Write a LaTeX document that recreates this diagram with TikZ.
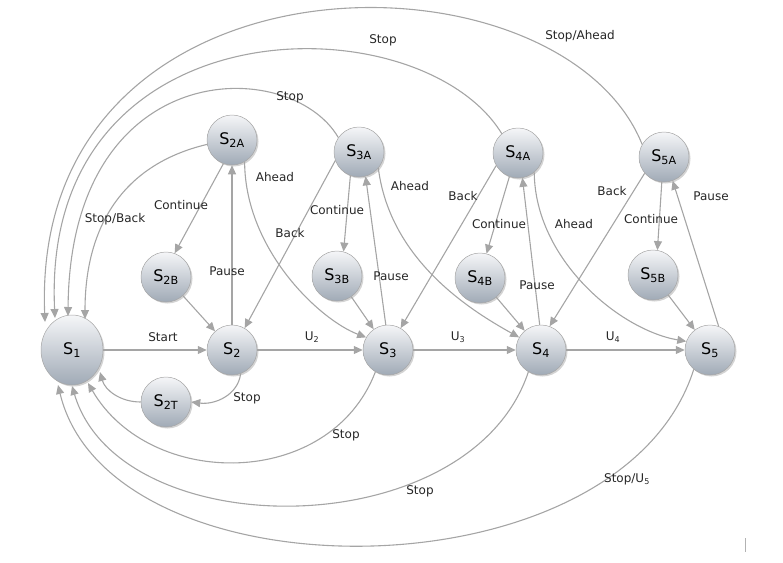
\documentclass[tikz,border=0pt]{standalone}
\usepackage{fontspec}
\setmainfont{DejaVu Sans}
\usetikzlibrary{shadows,arrows.meta,shapes.geometric}
\definecolor{ln}{RGB}{165,165,165}
\definecolor{bt}{RGB}{245,246,248}
\definecolor{bb}{RGB}{160,170,182}
\newcommand{\sbx}[1]{\textsubscript{#1}}
\tikzset{
  st/.style={circle,draw=gray!70,line width=0.5pt,minimum size=50pt,inner sep=0pt,
    top color=bt,bottom color=bb,drop shadow={opacity=0.35,shadow xshift=1.5pt,shadow yshift=-1.5pt},font=\fontsize{16}{16}\selectfont},
  big/.style={st,ellipse,minimum width=62pt,minimum height=70pt},
  tr/.style={draw=ln,line width=1.1pt,-{Triangle[length=9pt,width=8pt]}},
  lb/.style={font=\fontsize{12}{12}\selectfont,text=black!85}
}
\begin{document}
\begin{tikzpicture}[x=1pt,y=-1pt]
\useasboundingbox (0,0) rectangle (783,562);
\node[big] (s1) at (72,350) {S\sbx{1}};
\node[st] (s2) at (232,350) {S\sbx{2}};
\node[st] (s3) at (388,350) {S\sbx{3}};
\node[st] (s4) at (541,350) {S\sbx{4}};
\node[st] (s5) at (710,350) {S\sbx{5}};
\node[st] (s2a) at (232,140) {S\sbx{2A}};
\node[st] (s3a) at (359,152) {S\sbx{3A}};
\node[st] (s4a) at (518,153) {S\sbx{4A}};
\node[st] (s5a) at (664,157) {S\sbx{5A}};
\node[st] (s2b) at (166,277) {S\sbx{2B}};
\node[st] (s3b) at (337,276) {S\sbx{3B}};
\node[st] (s4b) at (480,278) {S\sbx{4B}};
\node[st] (s5b) at (653,275) {S\sbx{5B}};
\node[st] (s2t) at (166,402) {S\sbx{2T}};
% main line
\draw[tr] (s1) -- (s2);
\draw[tr] (s2) -- (s3);
\draw[tr] (s3) -- (s4);
\draw[tr] (s4) -- (s5);
% pause
\draw[tr] (s2.north) -- (s2a.south);
\draw[tr] (s3.95) -- (s3a.285);
\draw[tr] (s4.93) -- (s4a.280);
\draw[tr] (s5.70) -- (s5a.290);
% continue
\draw[tr] (s2a.250) -- (s2b.70);
\draw[tr] (s3a.250) -- (s3b.75);
\draw[tr] (s4a.250) -- (s4b.75);
\draw[tr] (s5a.265) -- (s5b.80);
% B -> main
\draw[tr] (s2b) -- (s2);
\draw[tr] (s3b) -- (s3);
\draw[tr] (s4b) -- (s4);
\draw[tr] (s5b) -- (s5);
% back
\draw[tr] (s3a.200) -- (s2.60);
\draw[tr] (s4a.210) -- (s3.60);
\draw[tr] (s5a.220) -- (s4.70);
% ahead
\draw[tr] (s2a.-60) .. controls (245,250) and (320,320) .. (s3.150);
\draw[tr] (s3a.-40) .. controls (390,260) and (470,310) .. (s4.150);
\draw[tr] (s4a.-50) .. controls (535,260) and (620,330) .. (s5.160);
% stops to S1 top
\coordinate (t1) at (45,322);
\coordinate (t2) at (55,318);
\coordinate (t3) at (68,316);
\coordinate (t4) at (85,319);
\draw[tr] (s5a.150) .. controls (560,-60) and (30,-60) .. (t1);
\draw[tr] (s4a.130) .. controls (420,0) and (40,0) .. (t2);
\draw[tr] (s3a.145) .. controls (290,55) and (70,55) .. (t3);
\draw[tr] (s2a.190) .. controls (120,165) and (85,230) .. (t4);
% stops bottom
\coordinate (b1) at (58,385);
\coordinate (b2) at (72,386);
\coordinate (b3) at (88,383);
\coordinate (b4) at (100,372);
\draw[tr] (s5.230) .. controls (620,601) and (110,601) .. (b1);
\draw[tr] (s4.240) .. controls (470,547) and (120,547) .. (b2);
\draw[tr] (s3.240) .. controls (330,490) and (150,490) .. (b3);
\draw[tr] (s2.-70) .. controls (238,395) and (215,405) .. (s2t.east);
\draw[tr] (s2t.west) .. controls (120,402) and (105,390) .. (b4);
% labels
\node[lb] (l1) at (383,40) {Stop};
\node[lb] (l2) at (580,36) {Stop/Ahead};
\node[lb] (l3) at (290,97) {Stop};
\node[lb] (l4) at (115,219) {Stop/Back};
\node[lb] (l5) at (181,205) {Continue};
\node[lb] (l6) at (275,177) {Ahead};
\node[lb] (l7) at (227,271) {Pause};
\node[lb] (l8) at (290,233) {Back};
\node[lb] (l9) at (337,210) {Continue};
\node[lb] (l10) at (410,186) {Ahead};
\node[lb] (l11) at (391,276) {Pause};
\node[lb] (l12) at (463,196) {Back};
\node[lb] (l13) at (499,224) {Continue};
\node[lb] (l14) at (537,285) {Pause};
\node[lb] (l15) at (574,224) {Ahead};
\node[lb] (l16) at (612,191) {Back};
\node[lb] (l17) at (651,219) {Continue};
\node[lb] (l18) at (711,196) {Pause};
\node[lb] (l19) at (163,337) {Start};
\node[lb] (l20) at (312,337) {U\sbx{2}};
\node[lb] (l21) at (458,337) {U\sbx{3}};
\node[lb] (l22) at (613,337) {U\sbx{4}};
\node[lb] (l23) at (247,398) {Stop};
\node[lb] (l24) at (346,435) {Stop};
\node[lb] (l25) at (420,491) {Stop};
\node[lb] (l26) at (627,479) {Stop/U\sbx{5}};
\draw[gray!60,line width=0.8pt] (745,538) -- (745,552);
\end{tikzpicture}
\end{document}
